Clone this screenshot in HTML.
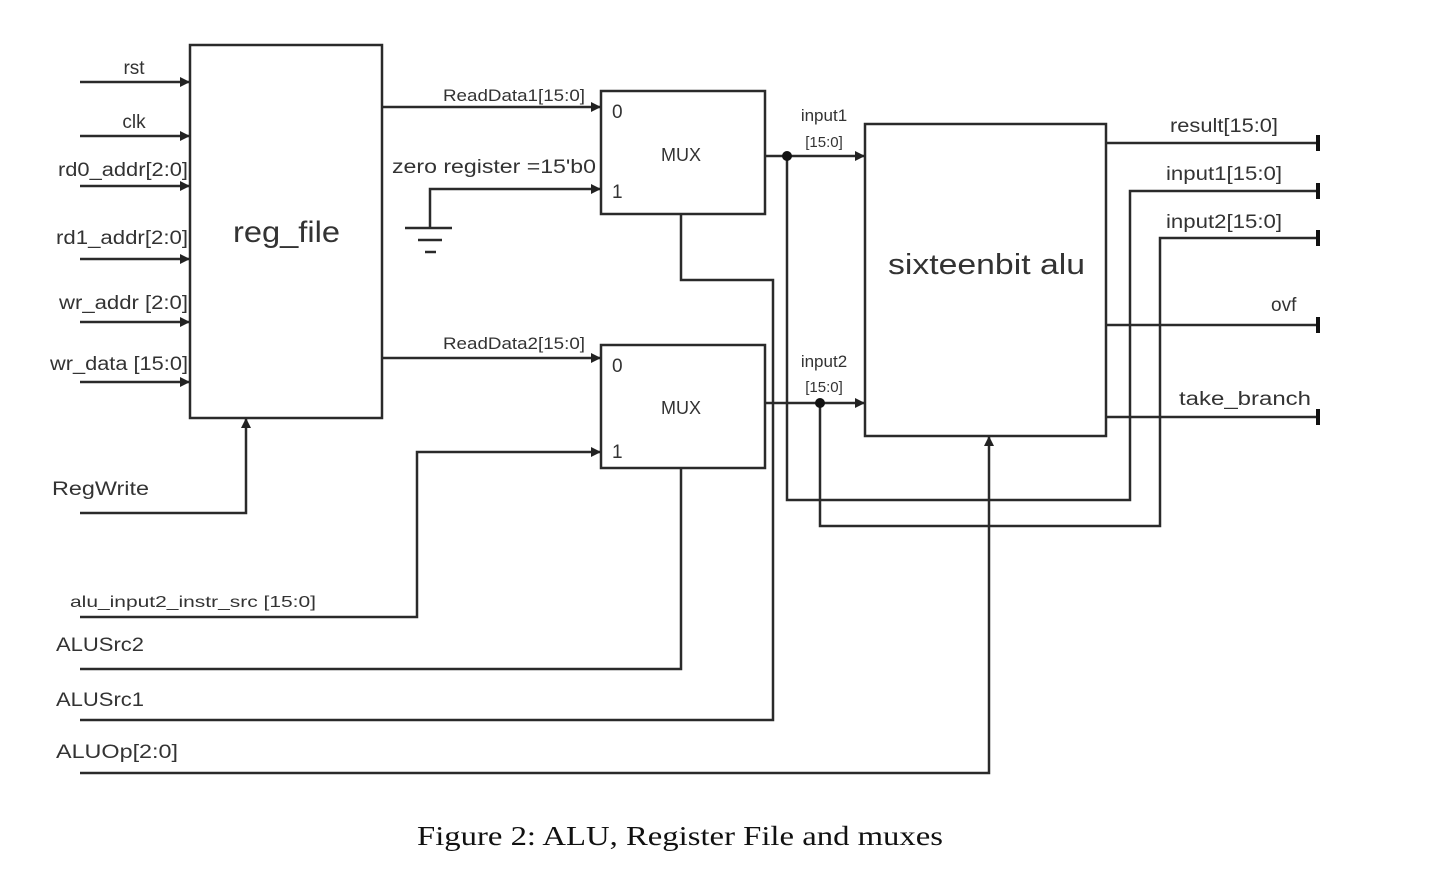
<!DOCTYPE html>
<html><head><meta charset="utf-8"><style>
html,body{margin:0;padding:0;background:#fff;}
svg{display:block;}
text{font-family:"Liberation Sans",sans-serif;fill:#333;}
</style></head><body>
<svg width="1436" height="884" viewBox="0 0 1436 884" xmlns="http://www.w3.org/2000/svg">
<defs>
<marker id="a" markerWidth="10" markerHeight="10" refX="9" refY="5" orient="auto" markerUnits="userSpaceOnUse">
<path d="M0,0 L10,5 L0,10 z" fill="#222"/></marker>
</defs>
<g stroke="#2a2a2a" stroke-width="2.5" fill="none">
<!-- boxes -->
<rect x="190" y="45" width="192" height="373"/>
<rect x="601" y="91" width="164" height="123"/>
<rect x="601" y="345" width="164" height="123"/>
<rect x="865" y="124" width="241" height="312"/>
<!-- reg file inputs -->
<line x1="80" y1="82" x2="189" y2="82" marker-end="url(#a)"/>
<line x1="80" y1="136" x2="189" y2="136" marker-end="url(#a)"/>
<line x1="80" y1="186" x2="189" y2="186" marker-end="url(#a)"/>
<line x1="80" y1="259" x2="189" y2="259" marker-end="url(#a)"/>
<line x1="80" y1="322" x2="189" y2="322" marker-end="url(#a)"/>
<line x1="80" y1="382" x2="189" y2="382" marker-end="url(#a)"/>
<polyline points="80,513 246,513 246,419" marker-end="url(#a)"/>
<!-- readdata -->
<line x1="382" y1="107" x2="600" y2="107" marker-end="url(#a)"/>
<line x1="382" y1="358" x2="600" y2="358" marker-end="url(#a)"/>
<polyline points="430,228 430,189 600,189" marker-end="url(#a)"/>
<line x1="405" y1="228" x2="452" y2="228"/>
<line x1="418" y1="240" x2="442" y2="240"/>
<line x1="425" y1="252" x2="436" y2="252"/>
<polyline points="80,617 417,617 417,452 600,452" marker-end="url(#a)"/>
<!-- mux outputs -->
<line x1="765" y1="156" x2="864" y2="156" marker-end="url(#a)"/>
<line x1="765" y1="403" x2="864" y2="403" marker-end="url(#a)"/>
<!-- selects -->
<polyline points="681,214 681,280 773,280 773,720 80,720"/>
<polyline points="681,468 681,669 80,669"/>
<polyline points="80,773 989,773 989,437" marker-end="url(#a)"/>
<!-- feedback -->
<polyline points="787,156 787,500 1130,500 1130,191 1318,191"/>
<polyline points="820,403 820,526 1160,526 1160,238 1318,238"/>
<!-- outputs -->
<line x1="1106" y1="143" x2="1318" y2="143"/>
<line x1="1106" y1="325" x2="1318" y2="325"/>
<line x1="1106" y1="417" x2="1318" y2="417"/>
</g>
<g fill="#111">
<circle cx="787" cy="156" r="5"/>
<circle cx="820" cy="403" r="5"/>
<rect x="1316" y="135" width="4" height="16"/>
<rect x="1316" y="183" width="4" height="16"/>
<rect x="1316" y="230" width="4" height="16"/>
<rect x="1316" y="317" width="4" height="16"/>
<rect x="1316" y="409" width="4" height="16"/>
</g>
<g font-size="19">
<text x="134" y="74" text-anchor="middle">rst</text>
<text x="134" y="128" text-anchor="middle">clk</text>
<text x="58" y="176" textLength="130" lengthAdjust="spacingAndGlyphs">rd0_addr[2:0]</text>
<text x="56" y="244" textLength="132" lengthAdjust="spacingAndGlyphs">rd1_addr[2:0]</text>
<text x="59" y="309" textLength="129" lengthAdjust="spacingAndGlyphs">wr_addr [2:0]</text>
<text x="50" y="370" textLength="138" lengthAdjust="spacingAndGlyphs">wr_data [15:0]</text>
<text x="52" y="495" textLength="97" lengthAdjust="spacingAndGlyphs">RegWrite</text>
<text x="70" y="607" font-size="16" textLength="246" lengthAdjust="spacingAndGlyphs">alu_input2_instr_src [15:0]</text>
<text x="56" y="651" textLength="88" lengthAdjust="spacingAndGlyphs">ALUSrc2</text>
<text x="56" y="706" textLength="88" lengthAdjust="spacingAndGlyphs">ALUSrc1</text>
<text x="56" y="758" textLength="122" lengthAdjust="spacingAndGlyphs">ALUOp[2:0]</text>
<text x="443" y="101" font-size="17" textLength="142" lengthAdjust="spacingAndGlyphs">ReadData1[15:0]</text>
<text x="443" y="349" font-size="17" textLength="142" lengthAdjust="spacingAndGlyphs">ReadData2[15:0]</text>
<text x="392" y="173" textLength="204" lengthAdjust="spacingAndGlyphs">zero register =15'b0</text>
<text x="612" y="118">0</text>
<text x="612" y="198">1</text>
<text x="612" y="372">0</text>
<text x="612" y="458">1</text>
<text x="661" y="161" font-size="18">MUX</text>
<text x="661" y="414" font-size="18">MUX</text>
<text x="824" y="121" font-size="17" text-anchor="middle">input1</text>
<text x="824" y="147" font-size="15" text-anchor="middle">[15:0]</text>
<text x="824" y="367" font-size="17" text-anchor="middle">input2</text>
<text x="824" y="392" font-size="15" text-anchor="middle">[15:0]</text>
<text x="1170" y="132" textLength="108" lengthAdjust="spacingAndGlyphs">result[15:0]</text>
<text x="1166" y="180" textLength="116" lengthAdjust="spacingAndGlyphs">input1[15:0]</text>
<text x="1166" y="228" textLength="116" lengthAdjust="spacingAndGlyphs">input2[15:0]</text>
<text x="1271" y="311">ovf</text>
<text x="1179" y="405" textLength="132" lengthAdjust="spacingAndGlyphs">take_branch</text>
</g>
<text x="233" y="242" font-size="30" textLength="107" lengthAdjust="spacingAndGlyphs">reg_file</text>
<text x="888" y="274" font-size="29" textLength="197" lengthAdjust="spacingAndGlyphs">sixteenbit alu</text>
<text x="417" y="845" font-size="27" style="font-family:'Liberation Serif',serif;fill:#111" textLength="526" lengthAdjust="spacingAndGlyphs">Figure 2: ALU, Register File and muxes</text>
</svg>
</body></html>
